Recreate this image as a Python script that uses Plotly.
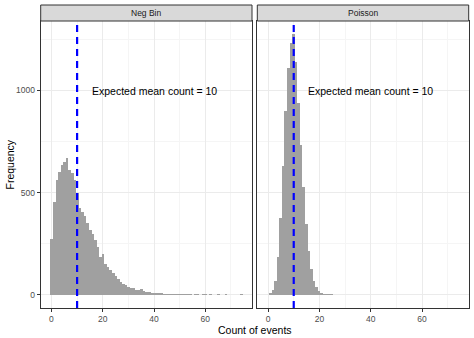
import plotly.graph_objects as go

# ---- data ----
negbin_counts = [275, 455, 560, 600, 635, 650, 672, 610, 595, 560,
                 500, 425, 405, 385, 350, 320, 300, 268, 235, 185,
                 200, 150, 135, 120, 105, 92, 80, 65, 55, 48,
                 40, 35, 33, 25, 22, 28, 18, 15, 12, 10,
                 9, 7, 6, 5, 4, 3, 3, 2, 2, 2,
                 1, 1, 2, 1, 1, 0, 1, 1, 0, 1,
                 1, 0, 1, 0, 0, 1, 0, 0, 1, 0,
                 0, 0, 0, 0, 1]
negbin_x = list(range(len(negbin_counts)))

poisson_counts = [0, 5, 22, 70, 185, 375, 630, 900, 1110, 1230,
                  1275, 1140, 940, 735, 530, 345, 215, 125, 70, 40,
                  18, 9, 4, 2, 1, 1]
poisson_x = list(range(len(poisson_counts)))

panels = ["Neg Bin", "Poisson"]
expected_mean = 10
x_ticks = [0, 20, 40, 60]
y_ticks = [0, 500, 1000]
x_range = [-4.2, 78.2]
y_range = [-64, 1340]

W, H = 474, 338
# panel pixel boxes
p1 = (40.7, 252.0)
p2 = (257.3, 468.7)
top_px, bot_px = 21.0, 308.0
strip_top = 5.0

fx = lambda px: px / W
fy = lambda py: 1 - py / H

BAR = "#a0a0a0"
BORDER = "#333333"
GRID = "#ebebeb"
MINOR = "#f5f5f5"

fig = go.Figure()
fig.add_trace(go.Bar(x=negbin_x, y=negbin_counts, width=1, marker=dict(color=BAR, line=dict(width=0)),
                     xaxis="x", yaxis="y", showlegend=False))
fig.add_trace(go.Bar(x=poisson_x, y=poisson_counts, width=1, marker=dict(color=BAR, line=dict(width=0)),
                     xaxis="x2", yaxis="y2", showlegend=False))

common_x = dict(range=x_range, tickmode="array", tickvals=x_ticks, ticktext=[str(v) for v in x_ticks],
                showgrid=True, gridcolor=GRID, gridwidth=1, zeroline=False,
                minor=dict(tickmode="array", tickvals=[10, 30, 50, 70], showgrid=True, gridcolor=MINOR, gridwidth=1, ticks=""),
                ticks="outside", ticklen=3, tickcolor=BORDER, tickwidth=1,
                tickfont=dict(family="Liberation Sans, Arial", size=8.5, color="#4d4d4d"),
                showline=True, linecolor=BORDER, linewidth=1, mirror=True, fixedrange=True)
common_y = dict(range=y_range, tickmode="array", tickvals=y_ticks, ticktext=[str(v) for v in y_ticks],
                showgrid=True, gridcolor=GRID, gridwidth=1, zeroline=False,
                minor=dict(tickmode="array", tickvals=[250, 750, 1250], showgrid=True, gridcolor=MINOR, gridwidth=1, ticks=""),
                ticks="outside", ticklen=3, tickcolor=BORDER, tickwidth=1,
                tickfont=dict(family="Liberation Sans, Arial", size=8.5, color="#4d4d4d"),
                showline=True, linecolor=BORDER, linewidth=1, mirror=True, fixedrange=True,
                domain=[fy(bot_px), fy(top_px)])

fig.update_layout(
    width=W, height=H, margin=dict(l=0, r=0, t=0, b=0),
    paper_bgcolor="white", plot_bgcolor="white", bargap=0, barmode="overlay",
    xaxis=dict(common_x, domain=[fx(p1[0]), fx(p1[1])], anchor="y"),
    yaxis=dict(common_y, anchor="x"),
    xaxis2=dict(common_x, domain=[fx(p2[0]), fx(p2[1])], anchor="y2"),
    yaxis2=dict(common_y, anchor="x2", showticklabels=False, ticks=""),
    font=dict(family="Liberation Sans, Arial"),
)

shapes = []
annotations = []
for i, (name, (l, r)) in enumerate(zip(panels, [p1, p2])):
    xr = "x" if i == 0 else "x2"
    yr = "y" if i == 0 else "y2"
    # dashed mean line
    shapes.append(dict(type="line", xref=xr, yref=yr + " domain", x0=expected_mean, x1=expected_mean,
                       y0=0, y1=1, line=dict(color="#0000ff", width=2.2, dash="7px,5px"), layer="above"))
    # strip
    shapes.append(dict(type="rect", xref="paper", yref="paper", x0=fx(l), x1=fx(r),
                       y0=fy(top_px), y1=fy(strip_top), fillcolor="#d9d9d9",
                       line=dict(color=BORDER, width=1)))
    annotations.append(dict(text=name, xref="paper", yref="paper", x=fx((l + r) / 2), y=fy((top_px + strip_top) / 2),
                            showarrow=False, xanchor="center", yanchor="middle",
                            font=dict(size=8.5, color="#1a1a1a")))
    annotations.append(dict(text=f"Expected mean count = {expected_mean}", xref=xr, yref=yr, x=40, y=1000,
                            showarrow=False, xanchor="center", yanchor="middle",
                            font=dict(size=10.5, color="black")))

annotations.append(dict(text="Count of events", xref="paper", yref="paper", x=fx((p1[0] + p2[1]) / 2), y=fy(330),
                        showarrow=False, xanchor="center", yanchor="middle", font=dict(size=10.5, color="black")))
annotations.append(dict(text="Frequency", xref="paper", yref="paper", x=fx(9), y=fy((top_px + bot_px) / 2),
                        showarrow=False, xanchor="center", yanchor="middle", textangle=-90,
                        font=dict(size=10.5, color="black")))

fig.update_layout(shapes=shapes, annotations=annotations)
fig.write_html("out.html")
